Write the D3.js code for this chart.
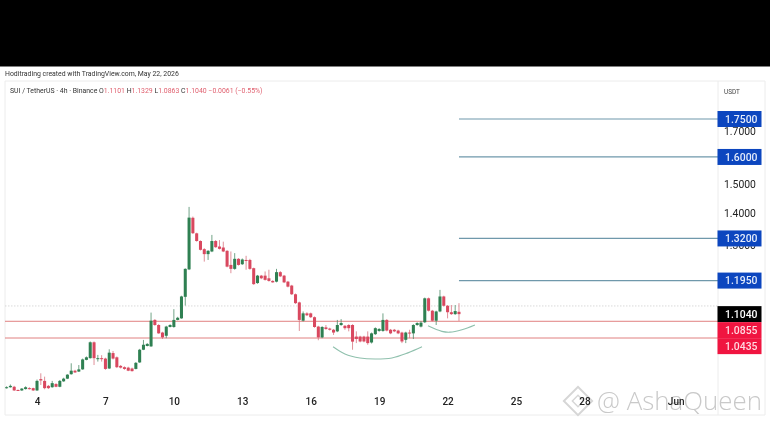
<!DOCTYPE html>
<html><head><meta charset="utf-8">
<script src="https://cdn.jsdelivr.net/npm/d3@7"></script>
<style>
html,body{margin:0;padding:0;background:#fff;overflow:hidden}
svg{display:block;filter:blur(0.55px)}
text{font-family:Roboto,"Liberation Sans",sans-serif}
</style></head><body><div id="c"></div>
<script>
const opens=[.928,.929,.930,.923,.922,.925,.927,.927,.922,.947,.943,.932,.929,.936,.930,.942,.948,.958,.966,.964,.969,.991,.995,1.033,.994,.995,.994,.971,1.007,.997,.977,.974,.973,.971,.970,.985,1.015,1.024,1.023,1.089,1.076,1.057,1.049,1.071,1.071,1.089,1.093,1.150,1.227,1.386,1.336,1.312,1.287,1.272,1.280,1.312,1.295,1.292,1.282,1.240,1.2285,1.258,1.242,1.2546,1.2546,1.2305,1.188,1.209,1.209,1.2015,1.194,1.192,1.219,1.209,1.192,1.181,1.157,1.135,1.087,1.106,1.106,1.096,1.072,1.045,1.070,1.067,1.064,1.060,1.076,1.074,1.076,1.076,1.047,1.047,1.047,1.047,1.0325,1.053,1.061,1.061,1.089,1.064,1.064,1.062,1.057,1.039,1.057,1.055,1.076,1.072,1.083,1.146,1.113,1.087,1.111,1.151,1.126,1.109,1.104,1.1101];
const highs=[.931,.935,.932,.924,.927,.931,.929,.928,.946,.960,.9525,.934,.943,.938,.945,.950,.958,.983,.968,.979,.994,.999,1.035,1.035,1.0027,1.002,.996,1.016,1.012,.999,.979,.976,.975,.973,.986,1.017,1.0387,1.031,1.108,1.091,1.078,1.059,1.074,1.078,1.117,1.097,1.153,1.230,1.422,1.39,1.338,1.314,1.29,1.284,1.331,1.315,1.315,1.310,1.284,1.280,1.275,1.260,1.259,1.267,1.258,1.232,1.211,1.211,1.221,1.226,1.196,1.2285,1.222,1.211,1.194,1.183,1.159,1.137,1.111,1.109,1.108,1.098,1.074,1.073,1.076,1.069,1.066,1.089,1.091,1.076,1.078,1.078,1.060,1.049,1.049,1.060,1.057,1.070,1.068,1.106,1.091,1.066,1.066,1.064,1.059,1.059,1.064,1.078,1.083,1.086,1.148,1.148,1.115,1.113,1.169,1.153,1.128,1.128,1.128,1.1329];
const lows=[.926,.928,.921,.921,.921,.924,.924,.921,.921,.934,.9245,.925,.928,.929,.929,.941,.947,.957,.961,.963,.968,.990,.994,.979,.987,.987,.968,.970,.992,.972,.971,.968,.965,.964,.969,.984,1.014,1.023,1.022,1.074,1.054,1.041,1.043,1.070,1.069,1.088,1.092,1.1265,1.225,1.334,1.310,1.283,1.2497,1.2546,1.278,1.291,1.286,1.278,1.233,1.216,1.226,1.238,1.240,1.226,1.226,1.183,1.186,1.199,1.195,1.192,1.189,1.190,1.205,1.188,1.176,1.155,1.131,1.061,1.085,1.099,1.094,1.069,1.038,1.043,1.064,1.062,1.051,1.058,1.074,1.064,1.060,1.015,1.031,1.033,1.033,1.027,1.030,1.051,1.059,1.059,1.060,1.053,1.058,1.053,1.031,1.031,1.043,1.041,1.074,1.070,1.081,1.111,1.085,1.076,1.109,1.124,1.093,1.102,1.102,1.0863];
const closes=[.929,.932,.922,.922,.926,.929,.925,.922,.943,.944,.927,.927,.938,.930,.943,.948,.957,.966,.962,.969,.992,.997,1.033,.995,.995,.993,.970,1.008,.994,.974,.973,.970,.966,.965,.984,1.015,1.027,1.029,1.087,1.076,1.055,1.045,1.072,1.076,1.089,1.0945,1.151,1.2285,1.3865,1.3364,1.312,1.285,1.272,1.282,1.312,1.293,1.288,1.280,1.235,1.2285,1.258,1.240,1.256,1.2517,1.2285,1.185,1.209,1.2015,1.197,1.194,1.190,1.219,1.207,1.190,1.178,1.157,1.133,1.089,1.106,1.101,1.096,1.071,1.045,1.071,1.066,1.064,1.057,1.076,1.081,1.068,1.068,1.0346,1.041,1.035,1.035,1.031,1.055,1.068,1.066,1.089,1.062,1.055,1.060,1.055,1.035,1.057,1.056,1.076,1.081,1.082,1.146,1.113,1.087,1.111,1.151,1.126,1.109,1.104,1.112,1.104];
const firstCandleDay=2.667, candlesPerDay=6;
const dayTicks=[4,7,10,13,16,19,22,25,28,32];
const dayTickLabels=["4","7","10","13","16","19","22","25","28","Jun"];
const priceTicks=[1.3,1.4,1.5,1.7];
const targetLevels=[1.75,1.6,1.32,1.195];
const supportLevels=[1.0855,1.0435];
const lastPrice=1.104;
const dottedLevel=1.1255;
const targetStartDay=22.5;
const leftArcDays=[16.98,17.5,18.16,18.82,19.56,20.26,20.88];
const leftArcPrices=[1.022,1.005,.9955,.993,.9955,1.0075,1.022];
const rightArcDays=[21.14,21.75,22.1,22.63,23.2];
const rightArcPrices=[1.074,1.060,1.058,1.064,1.076];
const headerLine="Hoditrading created with TradingView.com, May 22, 2026";
const legendName="SUI / TetherUS · 4h · Binance";
const legendOHLC=[["O","1.1101"],["H","1.1329"],["L","1.0863"],["C","1.1040"]];
const legendChange="−0.0061 (−0.55%)";
const currency="USDT";
const watermark="@ AshaQueen";

const W=770,H=427;
const svg=d3.select("#c").append("svg").attr("width",W).attr("height",H);
svg.append("rect").attr("width",W).attr("height",H).attr("fill","#fff");
svg.append("rect").attr("width",W).attr("height",66.5).attr("fill","#000");

const plot={l:5,r:718,t:81,b:415,edge:765};
const x=d3.scaleLinear().domain([4,25]).range([37,516]);
const y=d3.scaleLog().domain([1.75,1.0435]).range([119,338]);
const up="#2f8052",down="#d9485f";
const frame="#ececec";

// frame
[[plot.l,plot.t,plot.edge,plot.t],[plot.l,plot.b,plot.edge,plot.b],[plot.l,plot.t,plot.l,plot.b],[plot.r,plot.t,plot.r,plot.b],[plot.edge,plot.t,plot.edge,plot.b]]
 .forEach(d=>svg.append("line").attr("x1",d[0]).attr("y1",d[1]).attr("x2",d[2]).attr("y2",d[3]).attr("stroke",frame).attr("stroke-width",1));

// header
svg.append("text").attr("x",5).attr("y",75.5).attr("font-size",6.9).attr("fill","#333").text(headerLine);
const lg=svg.append("text").attr("x",10).attr("y",92.5).attr("font-size",6.9).attr("fill","#333");
lg.append("tspan").text(legendName+"   ");
legendOHLC.forEach(d=>{lg.append("tspan").attr("fill","#333").text(d[0]);lg.append("tspan").attr("fill","#e0606f").text(d[1]+"  ");});
lg.append("tspan").attr("fill","#e0606f").text(legendChange);
svg.append("text").attr("x",724).attr("y",93.5).attr("font-size",6.4).attr("fill","#444").text(currency);

// watermark
const wm=svg.append("g").attr("fill","none").attr("stroke","#d6d6d6").attr("stroke-width",2).attr("transform","translate(578,401) rotate(45)");
wm.append("rect").attr("x",-10).attr("y",-10).attr("width",20).attr("height",20);
wm.append("rect").attr("x",-4).attr("y",-4).attr("width",8).attr("height",8).attr("stroke-width",1.4);
svg.append("text").attr("x",597).attr("y",410).attr("font-size",25).attr("fill","#c9c9c9")
  .attr("textLength",165).attr("lengthAdjust","spacingAndGlyphs").style("font-family","'Open Sans'").style("font-weight",300).text(watermark);

// axes
const xAxis=d3.axisBottom(x).tickValues(dayTicks).tickSize(0).tickFormat((d,i)=>dayTickLabels[i]);
const gx=svg.append("g").attr("transform","translate(0,395)").call(xAxis);
gx.select(".domain").remove();
gx.selectAll("text").attr("font-size",10).attr("font-weight",500).attr("fill","#222").style("font-family","Roboto");
const yAxis=d3.axisRight(y).tickValues(priceTicks).tickSize(0).tickFormat(d3.format(".4f"));
const gy=svg.append("g").attr("transform","translate(724,0)").call(yAxis);
gy.select(".domain").remove();
gy.selectAll("text").attr("x",0).attr("font-size",10.4).attr("fill","#222").style("font-family","Roboto");

// levels
svg.append("line").attr("x1",plot.l).attr("x2",plot.r).attr("y1",y(dottedLevel)).attr("y2",y(dottedLevel))
  .attr("stroke","#cfcfcf").attr("stroke-width",.8).attr("stroke-dasharray","1.5 1.5");
svg.selectAll(".support").data(supportLevels).join("line").attr("x1",plot.l).attr("x2",plot.r)
  .attr("y1",d=>y(d)).attr("y2",d=>y(d)).attr("stroke","#dd7272").attr("stroke-width",.9);
svg.selectAll(".target").data(targetLevels).join("line").attr("x1",x(targetStartDay)).attr("x2",plot.r)
  .attr("y1",d=>y(d)).attr("y2",d=>y(d)).attr("stroke","#6f98ab").attr("stroke-width",1.2);

// arcs
const arc=d3.line().x(d=>x(d[0])).y(d=>y(d[1])).curve(d3.curveCatmullRom);
[[leftArcDays,leftArcPrices],[rightArcDays,rightArcPrices]].forEach(a=>{
  svg.append("path").attr("d",arc(d3.zip(a[0],a[1]))).attr("fill","none").attr("stroke","#8fc0ad").attr("stroke-width",1.1);
});

// candles
const candles=opens.map((o,i)=>({day:firstCandleDay+i/candlesPerDay,o,h:highs[i],l:lows[i],c:closes[i]}));
const bw=(x(1)-x(0))/candlesPerDay*0.8;
const g=svg.append("g");
g.selectAll(".w").data(candles).join("line")
  .attr("x1",d=>x(d.day)).attr("x2",d=>x(d.day)).attr("y1",d=>y(d.h)).attr("y2",d=>y(d.l))
  .attr("stroke",d=>d.c>=d.o?"#4d8c68":"#d8737f").attr("stroke-width",.8);
g.selectAll(".b").data(candles).join("rect")
  .attr("x",d=>x(d.day)-bw/2).attr("width",bw)
  .attr("y",d=>y(Math.max(d.o,d.c))).attr("height",d=>Math.max(1,Math.abs(y(d.o)-y(d.c))))
  .attr("fill",d=>d.c>=d.o?up:down);

// price labels: stacked downward so they never cover one another
const tagH=16;
function tag(v,bg,fg,cy){
  svg.append("rect").attr("x",717.5).attr("y",cy-tagH/2).attr("width",44).attr("height",tagH).attr("fill",bg);
  svg.append("text").attr("x",757.5).attr("y",cy+3.7).attr("text-anchor","end").attr("font-size",10.4).attr("font-weight",500).attr("fill",fg).text(v.toFixed(4));
}
targetLevels.forEach(v=>tag(v,"#0c46bf","#e4ecfb",y(v)));
let cy=y(lastPrice);
tag(lastPrice,"#000","#fff",cy);
supportLevels.forEach(v=>{cy=Math.max(y(v),cy+tagH);tag(v,"#f01540","#ffd9e0",cy);});
</script></body></html>
